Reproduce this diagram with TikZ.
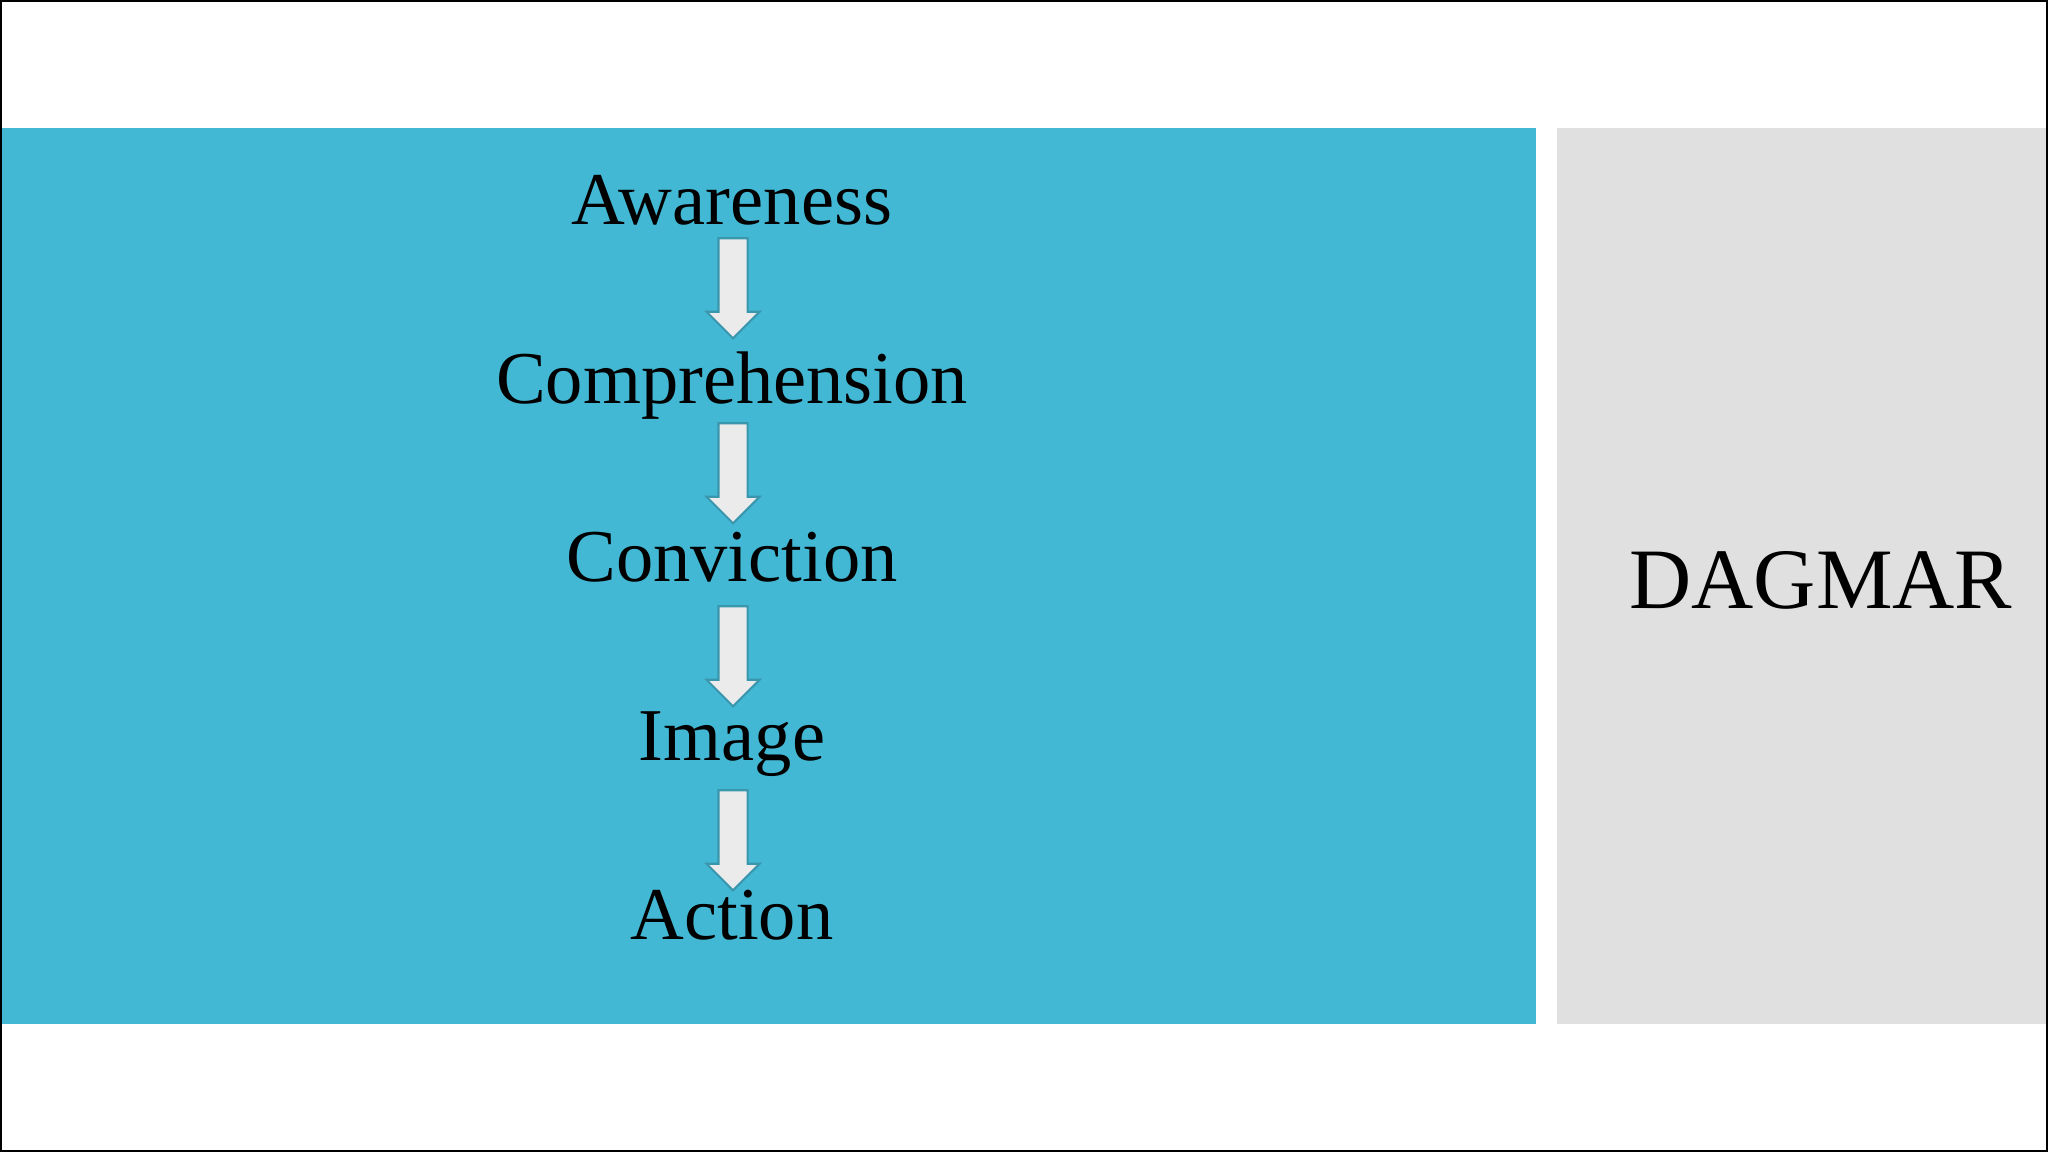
\documentclass[tikz,border=0pt]{standalone}
\usepackage{fontspec}
\setmainfont{Liberation Serif}
\usepackage{tikz}
\usetikzlibrary{shapes.arrows}

\definecolor{panelblue}{RGB}{66,184,212}
\definecolor{panelgrey}{RGB}{224,224,224}
\definecolor{arrowfill}{RGB}{235,235,235}
\definecolor{arrowline}{RGB}{58,150,172}

\tikzset{
  stage/.style={anchor=base,font=\fontsize{21.2}{24}\selectfont},
  downarrow/.style={single arrow,draw=arrowline,fill=arrowfill,line width=0.6pt,
    inner sep=0.135cm,minimum height=1cm,single arrow head extend=0.12cm,
    shape border rotate=270}
}

\begin{document}
\begin{tikzpicture}
            % Background and panels
            \useasboundingbox (0,0) rectangle (20.48,11.52);
            \fill[white] (0,0) rectangle (20.48,11.52);
            \fill[panelblue] (0,1.28) rectangle (15.36,10.24);
            \fill[panelgrey] (15.57,1.28) rectangle (20.48,10.24);
            \draw[black,line width=0.02cm] (0.01,0.01) rectangle (20.47,11.51);

            % The stages
            \node[stage] (aw) at (7.32,9.27) {Awareness};
            \node[stage] (co) at (7.32,7.48) {Comprehension};
            \node[stage] (cv) at (7.32,5.70) {Conviction};
            \node[stage] (im) at (7.32,3.91) {Image};
            \node[stage] (ac) at (7.32,2.12) {Action};

            % The arrows between them
            \node[downarrow] (a1) at (7.33,8.71) {};
            \node[downarrow] (a2) at (7.33,6.86) {};
            \node[downarrow] (a3) at (7.33,5.03) {};
            \node[downarrow] (a4) at (7.33,3.19) {};

            % Side label
            \node[anchor=base,font=\fontsize{24.5}{28}\selectfont] (dg) at (18.21,5.43) {DAGMAR};
        \end{tikzpicture}
\end{document}
